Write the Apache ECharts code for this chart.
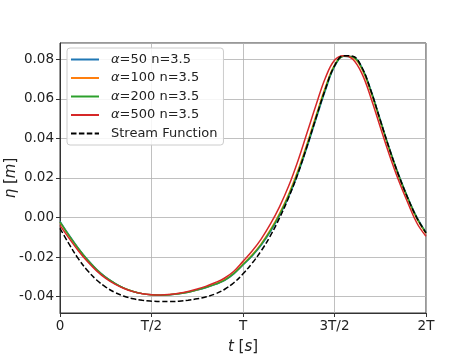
<!DOCTYPE html>
<html><head><meta charset="utf-8">
<script src="https://cdn.jsdelivr.net/npm/echarts@6/dist/echarts.min.js"></script>
<style>html,body{margin:0;padding:0;background:#fff}#c{width:474px;height:354px}</style>
</head><body><div id="c"></div>
<script>
const tValues = [0.00,0.05,0.10,0.15,0.20,0.25,0.30,0.35,0.40,0.45,0.50,0.55,0.60,0.65,0.70,0.75,0.80,0.85,0.90,0.95,
  1.00,1.05,1.10,1.15,1.20,1.25,1.30,1.35,1.40,1.45,1.50,1.55,1.60,1.65,1.70,1.75,1.80,1.85,1.90,1.95,2.00];

const seriesNames = ['α=50 n=3.5','α=100 n=3.5','α=200 n=3.5','α=500 n=3.5','Stream Function'];

const eta50 = [-0.0020,-0.0090,-0.0155,-0.0213,-0.0262,-0.0302,-0.0333,-0.0357,-0.0374,-0.0385,-0.0391,-0.0393,-0.0391,-0.0386,-0.0378,-0.0367,-0.0354,-0.0338,-0.0318,-0.0285,
  -0.0240,-0.0195,-0.0140,-0.0072,0.0010,0.0105,0.0220,0.0355,0.0500,0.0642,0.0762,0.0815,0.0812,0.0758,0.0640,0.0495,0.0350,0.0218,0.0102,0.0002,-0.0075];

const eta100 = [-0.0025,-0.0094,-0.0158,-0.0216,-0.0264,-0.0304,-0.0334,-0.0358,-0.0374,-0.0385,-0.0391,-0.0393,-0.0390,-0.0385,-0.0377,-0.0366,-0.0352,-0.0336,-0.0315,-0.0282,
  -0.0236,-0.0189,-0.0132,-0.0062,0.0021,0.0119,0.0237,0.0373,0.0518,0.0658,0.0770,0.0816,0.0809,0.0750,0.0630,0.0486,0.0342,0.0211,0.0096,-0.0006,-0.0080];

const eta200 = [-0.0022,-0.0092,-0.0157,-0.0214,-0.0263,-0.0303,-0.0333,-0.0357,-0.0374,-0.0385,-0.0391,-0.0393,-0.0391,-0.0386,-0.0378,-0.0366,-0.0353,-0.0337,-0.0317,-0.0283,
  -0.0238,-0.0192,-0.0136,-0.0067,0.0015,0.0112,0.0228,0.0364,0.0509,0.0650,0.0766,0.0815,0.0811,0.0754,0.0635,0.0490,0.0346,0.0214,0.0099,-0.0002,-0.0077];

const eta500 = [-0.0040,-0.0106,-0.0168,-0.0223,-0.0270,-0.0308,-0.0337,-0.0359,-0.0375,-0.0386,-0.0391,-0.0392,-0.0389,-0.0383,-0.0374,-0.0362,-0.0347,-0.0329,-0.0306,-0.0272,
  -0.0222,-0.0170,-0.0108,-0.0033,0.0055,0.0160,0.0286,0.0428,0.0571,0.0705,0.0795,0.0818,0.0800,0.0727,0.0602,0.0457,0.0316,0.0188,0.0076,-0.0028,-0.0095];

const etaStream = [-0.0055,-0.0135,-0.0208,-0.0268,-0.0316,-0.0352,-0.0379,-0.0398,-0.0411,-0.0419,-0.0423,-0.0425,-0.0425,-0.0423,-0.0418,-0.0411,-0.0401,-0.0386,-0.0363,-0.0330,
  -0.0285,-0.0231,-0.0168,-0.0092,-0.0002,0.0102,0.0222,0.0360,0.0506,0.0648,0.0766,0.0818,0.0815,0.0758,0.0638,0.0492,0.0347,0.0215,0.0099,-0.0002,-0.0078];

const xTickValues = [0, 0.5, 1, 1.5, 2];
const xTickLabels = ['0', 'T/2', 'T', '3T/2', '2T'];

const colors = ['#1f77b4', '#ff7f0e', '#2ca02c', '#d62728', '#000000'];
const allEta = [eta50, eta100, eta200, eta500, etaStream];

const chart = echarts.init(document.getElementById('c'), null, {renderer: 'canvas'});
const FONT = 'DejaVu Sans';
const series = allEta.map((arr, i) => ({
  name: seriesNames[i],
  type: 'line',
  data: tValues.map((t, j) => [t, arr[j]]),
  showSymbol: false,
  symbol: 'none',
  smooth: 0.4,
  z: 2 + i,
  lineStyle: {color: colors[i], width: 1.5, type: i === 4 ? [5.5, 2.4] : 'solid'},
  itemStyle: {color: colors[i]},
  animation: false
}));

chart.setOption({
  animation: false,
  backgroundColor: '#fff',
  grid: {left: 60, right: 48, top: 43, bottom: 41, show: true, borderColor: '#333', borderWidth: 1,
    backgroundColor: 'transparent', containLabel: false, outerBoundsMode: 'none'},
  legend: {
    orient: 'vertical', left: 67, top: 48,
    padding: [5, 6, 5, 3],
    itemWidth: 28, itemHeight: 14, itemGap: 5.5,
    itemStyle: {opacity: 0},
    backgroundColor: 'rgba(255,255,255,0.85)', borderColor: '#cccccc', borderWidth: 1, borderRadius: 3,
    data: seriesNames,
    formatter: n => n.charAt(0) === 'α' ? '{a|α}' + n.slice(1) : n,
    textStyle: {fontFamily: FONT, fontSize: 13, color: '#222', padding: [0, 0, 0, 7],
      rich: {a: {fontFamily: FONT, fontSize: 13, fontStyle: 'italic', color: '#222'}}}
  },
  xAxis: {
    type: 'value', min: 0, max: 2, interval: 0.5,
    name: '{i|t} [{i|s}]', nameLocation: 'middle', nameGap: 27, nameMoveOverlap: false,
    nameTextStyle: {fontFamily: FONT, fontSize: 15, color: '#222', rich: {i: {fontFamily: FONT, fontSize: 15, fontStyle: 'italic', color: '#222'}}},
    axisLine: {show: true, onZero: false, lineStyle: {color: '#333', width: 1}},
    axisTick: {show: true, inside: false, length: 4, lineStyle: {color: '#333'}},
    axisLabel: {fontFamily: FONT, fontSize: 13.5, color: '#222', margin: 6,
      formatter: v => { const k = xTickValues.findIndex(x => Math.abs(x - v) < 1e-9); return k >= 0 ? xTickLabels[k] : ''; }},
    splitLine: {show: true, lineStyle: {color: '#b0b0b0', width: 0.8}}
  },
  yAxis: {
    type: 'value', min: -0.0483, max: 0.0882, splitNumber: 7,
    name: '{i|η} [{i|m}]', nameLocation: 'middle', nameGap: 41, nameMoveOverlap: false,
    nameTextStyle: {fontFamily: FONT, fontSize: 15, color: '#222', rich: {i: {fontFamily: FONT, fontSize: 15, fontStyle: 'italic', color: '#222'}}},
    axisLine: {show: true, onZero: false, lineStyle: {color: '#333', width: 1}},
    axisTick: {show: true, inside: false, length: 4, lineStyle: {color: '#333'}},
    axisLabel: {fontFamily: FONT, fontSize: 13.5, color: '#222', margin: 6, showMinLabel: false, showMaxLabel: false,
      formatter: v => { const r = Math.round(v / 0.02); return Math.abs(v - r * 0.02) < 1e-6 ? (r * 0.02).toFixed(2) : ''; }},
    splitLine: {show: true, lineStyle: {color: '#b0b0b0', width: 0.8}}
  },
  series: series
});
</script>
</body></html>
